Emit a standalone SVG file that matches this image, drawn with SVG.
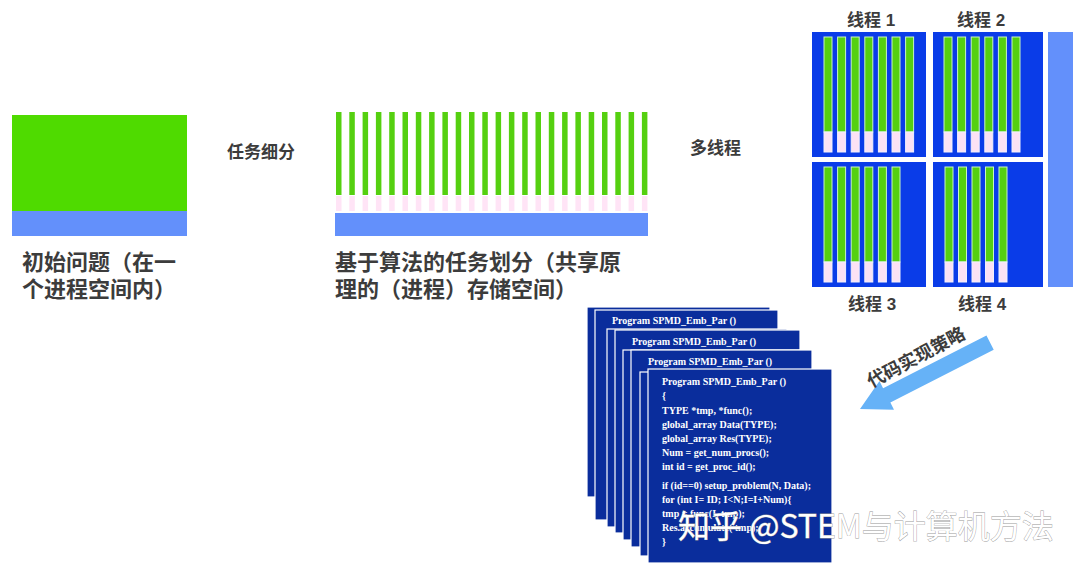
<svg xmlns="http://www.w3.org/2000/svg" width="1080" height="570" viewBox="0 0 1080 570">
<style>
.lbl{font-family:"Liberation Sans","Noto Sans CJK SC",sans-serif;font-weight:bold;fill:#3c3c3c}
.big{font-size:22px}
.mid{font-size:17px}
.code{font-family:"Liberation Serif","Times New Roman",serif;font-weight:bold;font-size:10px;fill:#ffffff}
.g{fill:#55d010}
.pk{fill:#ffe4f6}
.blue{fill:#6390fb}
.panel{fill:#0a3ce8}
.tg{fill:#55d010}
.tp{fill:#fbe2f4}
.cp{fill:#0a2d9c;stroke:#ffffff;stroke-width:1.2}
</style>
<defs>
<g id="tstripe">
<rect x="0" y="0" width="8" height="95" class="tg" stroke="#c8f5c0" stroke-width="1"/>
<rect x="0" y="95" width="8" height="20" class="tp" stroke="#f0f0ff" stroke-width="1"/>
</g>
<g id="mstripe">
<rect x="0" y="112" width="5.5" height="83" class="g"/>
<rect x="0" y="196" width="5.5" height="15" class="pk"/>
</g>
</defs>
<rect width="1080" height="570" fill="#ffffff"/>

<g id="initial">
<rect x="12" y="115" width="175" height="96" fill="#4fdb00"/>
<rect x="12" y="211" width="175" height="25" class="blue"/>
<text class="lbl big" x="22" y="270">初始问题（在一</text>
<text class="lbl big" x="22" y="297">个进程空间内）</text>
</g>

<g id="split-label"><text class="lbl mid" x="227" y="158">任务细分</text></g>

<g id="partition">
<use href="#mstripe" x="336"/><use href="#mstripe" x="349.3"/><use href="#mstripe" x="362.6"/><use href="#mstripe" x="375.9"/>
<use href="#mstripe" x="389.2"/><use href="#mstripe" x="402.5"/><use href="#mstripe" x="415.8"/><use href="#mstripe" x="429.1"/>
<use href="#mstripe" x="442.4"/><use href="#mstripe" x="455.7"/><use href="#mstripe" x="469"/><use href="#mstripe" x="482.3"/>
<use href="#mstripe" x="495.6"/><use href="#mstripe" x="508.9"/><use href="#mstripe" x="522.2"/><use href="#mstripe" x="535.5"/>
<use href="#mstripe" x="548.8"/><use href="#mstripe" x="562.1"/><use href="#mstripe" x="575.4"/><use href="#mstripe" x="588.7"/>
<use href="#mstripe" x="602"/><use href="#mstripe" x="615.3"/><use href="#mstripe" x="628.6"/><use href="#mstripe" x="641.9"/>
<rect x="335" y="213" width="313" height="23" class="blue"/>
<text class="lbl big" x="335" y="270">基于算法的任务划分（共享原</text>
<text class="lbl big" x="335" y="297">理的（进程）存储空间）</text>
</g>

<g id="mt-label"><text class="lbl mid" x="690" y="154">多线程</text></g>

<g id="threads">
<rect x="1048" y="32" width="25" height="255" class="blue"/>
<g id="thread1">
<rect x="812" y="32" width="114" height="125" class="panel"/>
<use href="#tstripe" x="824" y="37"/><use href="#tstripe" x="837.6" y="37"/><use href="#tstripe" x="851.2" y="37"/><use href="#tstripe" x="864.8" y="37"/>
<use href="#tstripe" x="878.4" y="37"/><use href="#tstripe" x="892" y="37"/><use href="#tstripe" x="905.6" y="37"/>
<text class="lbl mid" x="847" y="26">线程 1</text>
</g>
<g id="thread2">
<rect x="933" y="32" width="110" height="125" class="panel"/>
<use href="#tstripe" x="944" y="37"/><use href="#tstripe" x="957.6" y="37"/><use href="#tstripe" x="971.2" y="37"/><use href="#tstripe" x="984.8" y="37"/>
<use href="#tstripe" x="998.4" y="37"/><use href="#tstripe" x="1012" y="37"/>
<text class="lbl mid" x="957" y="26">线程 2</text>
</g>
<g id="thread3">
<rect x="812" y="162" width="114" height="125" class="panel"/>
<use href="#tstripe" x="824" y="167"/><use href="#tstripe" x="837.6" y="167"/><use href="#tstripe" x="851.2" y="167"/><use href="#tstripe" x="864.8" y="167"/>
<use href="#tstripe" x="878.4" y="167"/><use href="#tstripe" x="892" y="167"/>
<text class="lbl mid" x="848" y="310">线程 3</text>
</g>
<g id="thread4">
<rect x="933" y="162" width="110" height="125" class="panel"/>
<use href="#tstripe" x="945" y="167"/><use href="#tstripe" x="958.5" y="167"/><use href="#tstripe" x="972" y="167"/><use href="#tstripe" x="985.5" y="167"/>
<use href="#tstripe" x="999" y="167"/>
<text class="lbl mid" x="958" y="310">线程 4</text>
</g>
</g>

<g id="code">
<rect class="cp" x="587" y="307" width="183" height="190"/>
<rect class="cp" x="595" y="310" width="183" height="210"/>
<text class="code" x="612" y="324">Program SPMD_Emb_Par ()</text>
<rect class="cp" x="607" y="329" width="180" height="198"/>
<rect class="cp" x="615" y="330" width="185" height="203"/>
<text class="code" x="632" y="345">Program SPMD_Emb_Par ()</text>
<rect class="cp" x="623" y="350" width="184" height="190"/>
<rect class="cp" x="631" y="350" width="181" height="197"/>
<text class="code" x="648" y="365">Program SPMD_Emb_Par ()</text>
<rect class="cp" x="640" y="372" width="184" height="184"/>
<rect class="cp" x="648" y="369" width="184" height="194"/>
<text class="code" x="662" y="385">Program SPMD_Emb_Par ()</text>
<text class="code" x="662" y="399">{</text>
<text class="code" x="662" y="414">TYPE *tmp, *func();</text>
<text class="code" x="662" y="428">global_array Data(TYPE);</text>
<text class="code" x="662" y="442">global_array Res(TYPE);</text>
<text class="code" x="662" y="456">Num = get_num_procs();</text>
<text class="code" x="662" y="470">int id = get_proc_id();</text>
<text class="code" x="662" y="489">if (id==0) setup_problem(N, Data);</text>
<text class="code" x="662" y="503">for (int I= ID; I&lt;N;I=I+Num){</text>
<text class="code" x="662" y="517">tmp = func(I, tmp);</text>
<text class="code" x="662" y="531">Res.accumulate( tmp);</text>
<text class="code" x="662" y="545">}</text>
</g>

<g id="connectors">
<g transform="translate(860,409) rotate(-27)">
<polygon points="0,0 30,-16 30,-8 146,-8 146,8 30,8 30,16" fill="#66b2f7"/>
</g>
<text class="lbl" font-size="18" x="919" y="363" text-anchor="middle" transform="rotate(-28 919 363)">代码实现策略</text>
</g>

<g id="watermark">
<text x="678" y="538" font-family="'Noto Sans CJK SC',sans-serif" font-size="32" fill="#ffffff" stroke="#9a9a9a" stroke-width="0.8" paint-order="stroke">知乎 @STEM与计算机方法</text>
</g>
</svg>
